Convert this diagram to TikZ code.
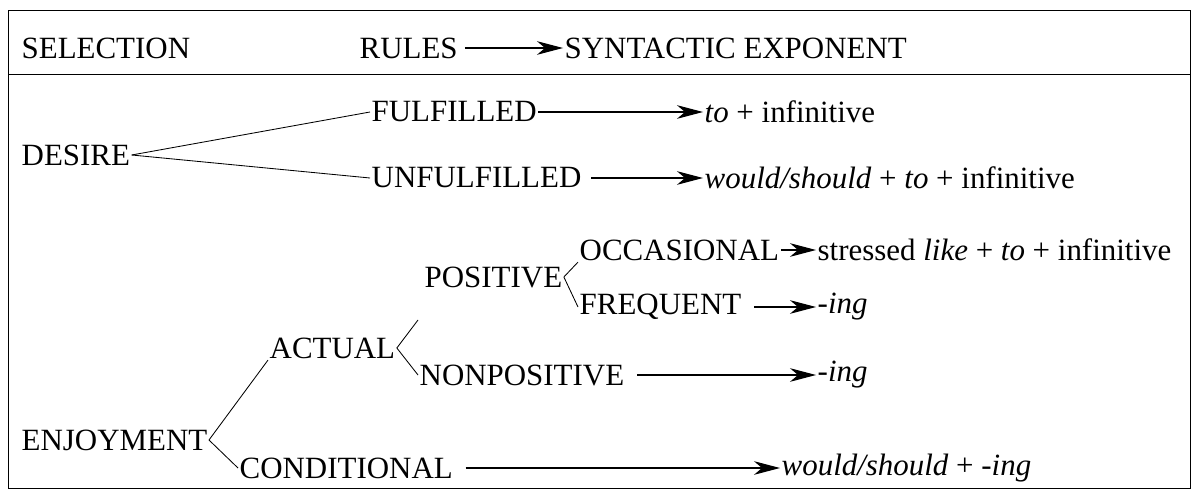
\documentclass[tikz,border=0pt]{standalone}
\usepackage{fontspec}
\setmainfont{Liberation Serif}
\usetikzlibrary{arrows.meta}
\begin{document}
\begin{tikzpicture}[
    x=0.025cm, y=-0.025cm,
    every node/.style={font=\fontsize{22}{24}\selectfont, inner sep=1pt, anchor=west},
    arrow/.style={-{Stealth[length=6.5mm,width=3.4mm,inset=2mm]}, thick},
    branch/.style={semithick}
  ]
  \useasboundingbox (0,0) rectangle (1200,499);
  \draw[semithick] (8,10) rectangle (1190,488);
  \draw[semithick] (8,74) -- (1190,74);

  % Kopfzeile
  \node (sel)   at (20,48)  {SELECTION};
  \node (rules) at (358,48) {RULES};
  \node (syn)   at (563,48) {SYNTACTIC EXPONENT};
  \draw[arrow] ([xshift=4pt]rules.east) -- (syn);

  % Desire
  \node (desire) at (20,155)  {DESIRE};
  \node (ful)    at (370,112) {FULFILLED};
  \node (unful)  at (370,178) {UNFULFILLED};
  \node (fulx)   at (703,112) {\textit{to} + infinitive};
  \node (unfulx) at (703,178) {\textit{would/should} + \textit{to} + infinitive};
  \draw[branch] (desire.east) -- (ful.west);
  \draw[branch] (desire.east) -- (unful.west);
  \draw[arrow] (ful) -- (fulx);
  \draw[arrow] ([xshift=6pt]unful.east) -- (unfulx);

  % Enjoyment
  \node (enj)  at (20,440)  {ENJOYMENT};
  \node (act)  at (268,348) {ACTUAL};
  \node (cond) at (238,468) {CONDITIONAL};
  \node (pos)  at (423,277) {POSITIVE};
  \node (nonp) at (418,375) {NONPOSITIVE};
  \node (occ)  at (578,250) {OCCASIONAL};
  \node (freq) at (578,307) {FREQUENT};
  \node (occx)  at (816,250) {stressed \textit{like} + \textit{to} + infinitive};
  \node (freqx) at (816,307) {\textit{-ing}};
  \node (nonpx) at (816,375) {\textit{-ing}};
  \node (condx) at (780,468) {\textit{would/should} + \textit{-ing}};
  \coordinate (actup) at (418,320);

  \draw[branch] (enj.east) -- (act.south west);
  \draw[branch] (enj.east) -- (cond.west);
  \draw[branch] (act.east) -- (actup);
  \draw[branch] (act.east) -- (nonp.west);
  \draw[branch] (pos.east) -- (occ.south west);
  \draw[branch] (pos.east) -- (freq.west);

  \draw[arrow] (occ) -- (occx);
  \draw[arrow] ([xshift=8pt]freq.east) -- (freqx);
  \draw[arrow] ([xshift=8pt]nonp.east) -- (nonpx);
  \draw[arrow] ([xshift=8pt]cond.east) -- (condx);
\end{tikzpicture}
\end{document}
